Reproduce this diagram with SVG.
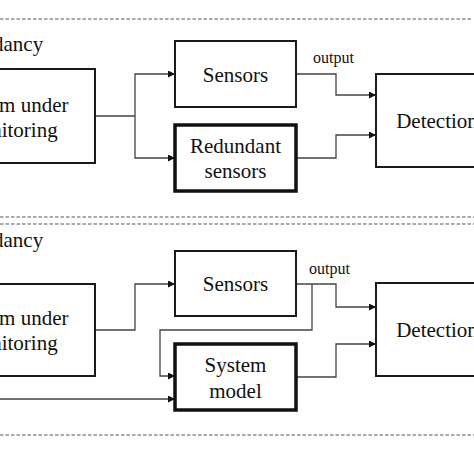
<svg xmlns="http://www.w3.org/2000/svg" width="474" height="474" viewBox="0 0 474 474">
<defs>
<style>
.t{font-family:'Liberation Serif',Tinos,'Times New Roman','DejaVu Serif',serif;font-size:21px;fill:#111}
.o{font-family:'Liberation Serif',Tinos,'Times New Roman','DejaVu Serif',serif;font-size:16px;fill:#111}
.b{fill:#fff;stroke:#1a1a1a;stroke-width:2}
.bt{fill:#fff;stroke:#111;stroke-width:3.5}
.c{fill:none;stroke:#444;stroke-width:1.3}
.a{fill:none;stroke:#444;stroke-width:1.3;marker-end:url(#ah)}
.d{fill:none;stroke:#555;stroke-width:1;stroke-dasharray:3.5 2}
</style>
<marker id="ah" viewBox="0 0 7 7" refX="7" refY="3.5" markerWidth="7" markerHeight="7" markerUnits="userSpaceOnUse" orient="auto">
<path d="M0,0 L7,3.5 L0,7 z" fill="#111"/>
</marker>
</defs>
<rect width="474" height="474" fill="#fff"/>
<g id="dividers">
<line class="d" x1="0" y1="19" x2="472" y2="19"/>
<line class="d" x1="0" y1="217" x2="474" y2="217"/>
<line class="d" x1="0" y1="224" x2="474" y2="224"/>
<line class="d" x1="0" y1="435" x2="474" y2="435"/>
</g>
<g id="titles">
<text class="t" x="-7" y="51">dancy</text>
<text class="t" x="-7" y="247">dancy</text>
</g>
<g id="connectors">
<polyline class="c" points="95,116 135,116"/>
<polyline class="a" points="135,116 135,74 175,74"/>
<polyline class="a" points="135,116 135,158 175,158"/>
<polyline class="a" points="296,74 336,74 336,95 376,95"/>
<polyline class="a" points="296,158 336,158 336,135 376,135"/>
<polyline class="a" points="95,330 135,330 135,284 175,284"/>
<polyline class="a" points="296,284 336,284 336,307 376,307"/>
<polyline class="a" points="312,284 312,330 160,330 160,376 175,376"/>
<polyline class="a" points="0,399 175,399"/>
<polyline class="a" points="296,377 336,377 336,344 376,344"/>
<text class="o" x="313" y="63">output</text>
<text class="o" x="309" y="274">output</text>
</g>
<g id="system1">
<rect class="b" x="-73" y="69" width="168" height="94"/>
<text class="t" x="11" y="112" text-anchor="middle">System under</text>
<text class="t" x="11" y="137" text-anchor="middle">monitoring</text>
</g>
<g id="sensors1">
<rect class="b" x="175" y="41" width="121" height="66"/>
<text class="t" x="235.5" y="81.5" text-anchor="middle">Sensors</text>
</g>
<g id="redundant">
<rect class="bt" x="175" y="125" width="121" height="66"/>
<text class="t" x="235.5" y="153" text-anchor="middle">Redundant</text>
<text class="t" x="235.5" y="178" text-anchor="middle">sensors</text>
</g>
<g id="detection1">
<rect class="b" x="376" y="74" width="110" height="93"/>
<text class="t" x="437" y="128" text-anchor="middle">Detection</text>
</g>
<g id="system2">
<rect class="b" x="-73" y="284" width="168" height="92"/>
<text class="t" x="11" y="325" text-anchor="middle">System under</text>
<text class="t" x="11" y="350" text-anchor="middle">monitoring</text>
</g>
<g id="sensors2">
<rect class="b" x="175" y="251" width="121" height="65"/>
<text class="t" x="235.5" y="291" text-anchor="middle">Sensors</text>
</g>
<g id="model">
<rect class="bt" x="175" y="344" width="121" height="66"/>
<text class="t" x="235.5" y="372" text-anchor="middle">System</text>
<text class="t" x="235.5" y="397.5" text-anchor="middle">model</text>
</g>
<g id="detection2">
<rect class="b" x="376" y="283" width="110" height="93"/>
<text class="t" x="437" y="337" text-anchor="middle">Detection</text>
</g>
</svg>
